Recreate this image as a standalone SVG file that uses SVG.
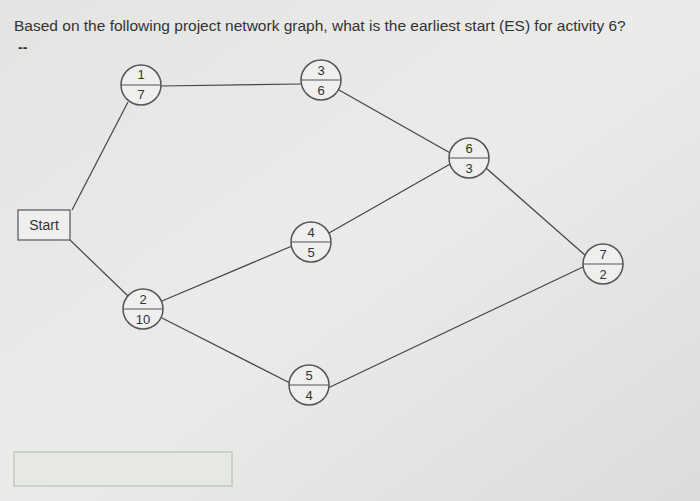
<svg xmlns="http://www.w3.org/2000/svg" width="700" height="501" viewBox="0 0 700 501">
<defs>
<linearGradient id="bg" x1="0" y1="0" x2="1" y2="1">
<stop offset="0" stop-color="#e4e4e2"/><stop offset="0.5" stop-color="#ebebea"/><stop offset="1" stop-color="#dcdcdb"/>
</linearGradient>
<style>
.n circle{fill:#efefee;stroke:#555;stroke-width:1.5}
.n line{stroke:#555;stroke-width:1.2}
.n text,.t{font-family:"Liberation Sans",Arial,sans-serif;fill:#333}
.n text{font-size:13px;text-anchor:middle}
#edges line{stroke:#444;stroke-width:1.2}
</style>
</defs>
<rect width="700" height="501" fill="url(#bg)"/>
<text class="t" x="14" y="31" font-size="15.5">Based on the following project network graph, what is the earliest start (ES) for activity 6?</text>
<text class="t" x="18" y="52" font-size="14" font-weight="bold">--</text>
<g id="edges">
<line x1="72" y1="210" x2="128" y2="102"/>
<line x1="70" y1="240" x2="128" y2="296"/>
<line x1="160" y1="86" x2="301" y2="84"/>
<line x1="339" y1="90" x2="452" y2="154"/>
<line x1="329" y1="233" x2="452" y2="163"/>
<line x1="162" y1="301" x2="292" y2="246"/>
<line x1="162" y1="318" x2="290" y2="383"/>
<line x1="486" y1="168" x2="586" y2="256"/>
<line x1="328" y1="388" x2="585" y2="266"/>
</g>
<g id="start"><rect x="18" y="210" width="52" height="30" fill="#efefee" stroke="#555" stroke-width="1.2"/><text class="t" x="44" y="230" font-size="14" text-anchor="middle">Start</text></g>
<g id="n1" class="n"><circle cx="141" cy="85" r="20"/><line x1="121" y1="85" x2="161" y2="85"/><text x="141" y="79">1</text><text x="141" y="99">7</text></g>
<g id="n3" class="n"><circle cx="321" cy="80" r="20"/><line x1="301" y1="80" x2="341" y2="80"/><text x="321" y="75">3</text><text x="321" y="95">6</text></g>
<g id="n6" class="n"><circle cx="469" cy="158" r="20"/><line x1="449" y1="158" x2="489" y2="158"/><text x="469" y="153">6</text><text x="469" y="173">3</text></g>
<g id="n4" class="n"><circle cx="311" cy="242" r="20"/><line x1="291" y1="242" x2="331" y2="242"/><text x="311" y="237">4</text><text x="311" y="257">5</text></g>
<g id="n7" class="n"><circle cx="603" cy="264" r="20"/><line x1="583" y1="264" x2="623" y2="264"/><text x="603" y="259">7</text><text x="603" y="279">2</text></g>
<g id="n2" class="n"><circle cx="143" cy="309" r="20"/><line x1="123" y1="309" x2="163" y2="309"/><text x="143" y="304">2</text><text x="143" y="324">10</text></g>
<g id="n5" class="n"><circle cx="309" cy="385" r="20"/><line x1="289" y1="385" x2="329" y2="385"/><text x="309" y="380">5</text><text x="309" y="400">4</text></g>
<rect x="14" y="452" width="218" height="34" fill="#e6e8e4" stroke="#b8c4b4" stroke-width="1.2"/>
</svg>
